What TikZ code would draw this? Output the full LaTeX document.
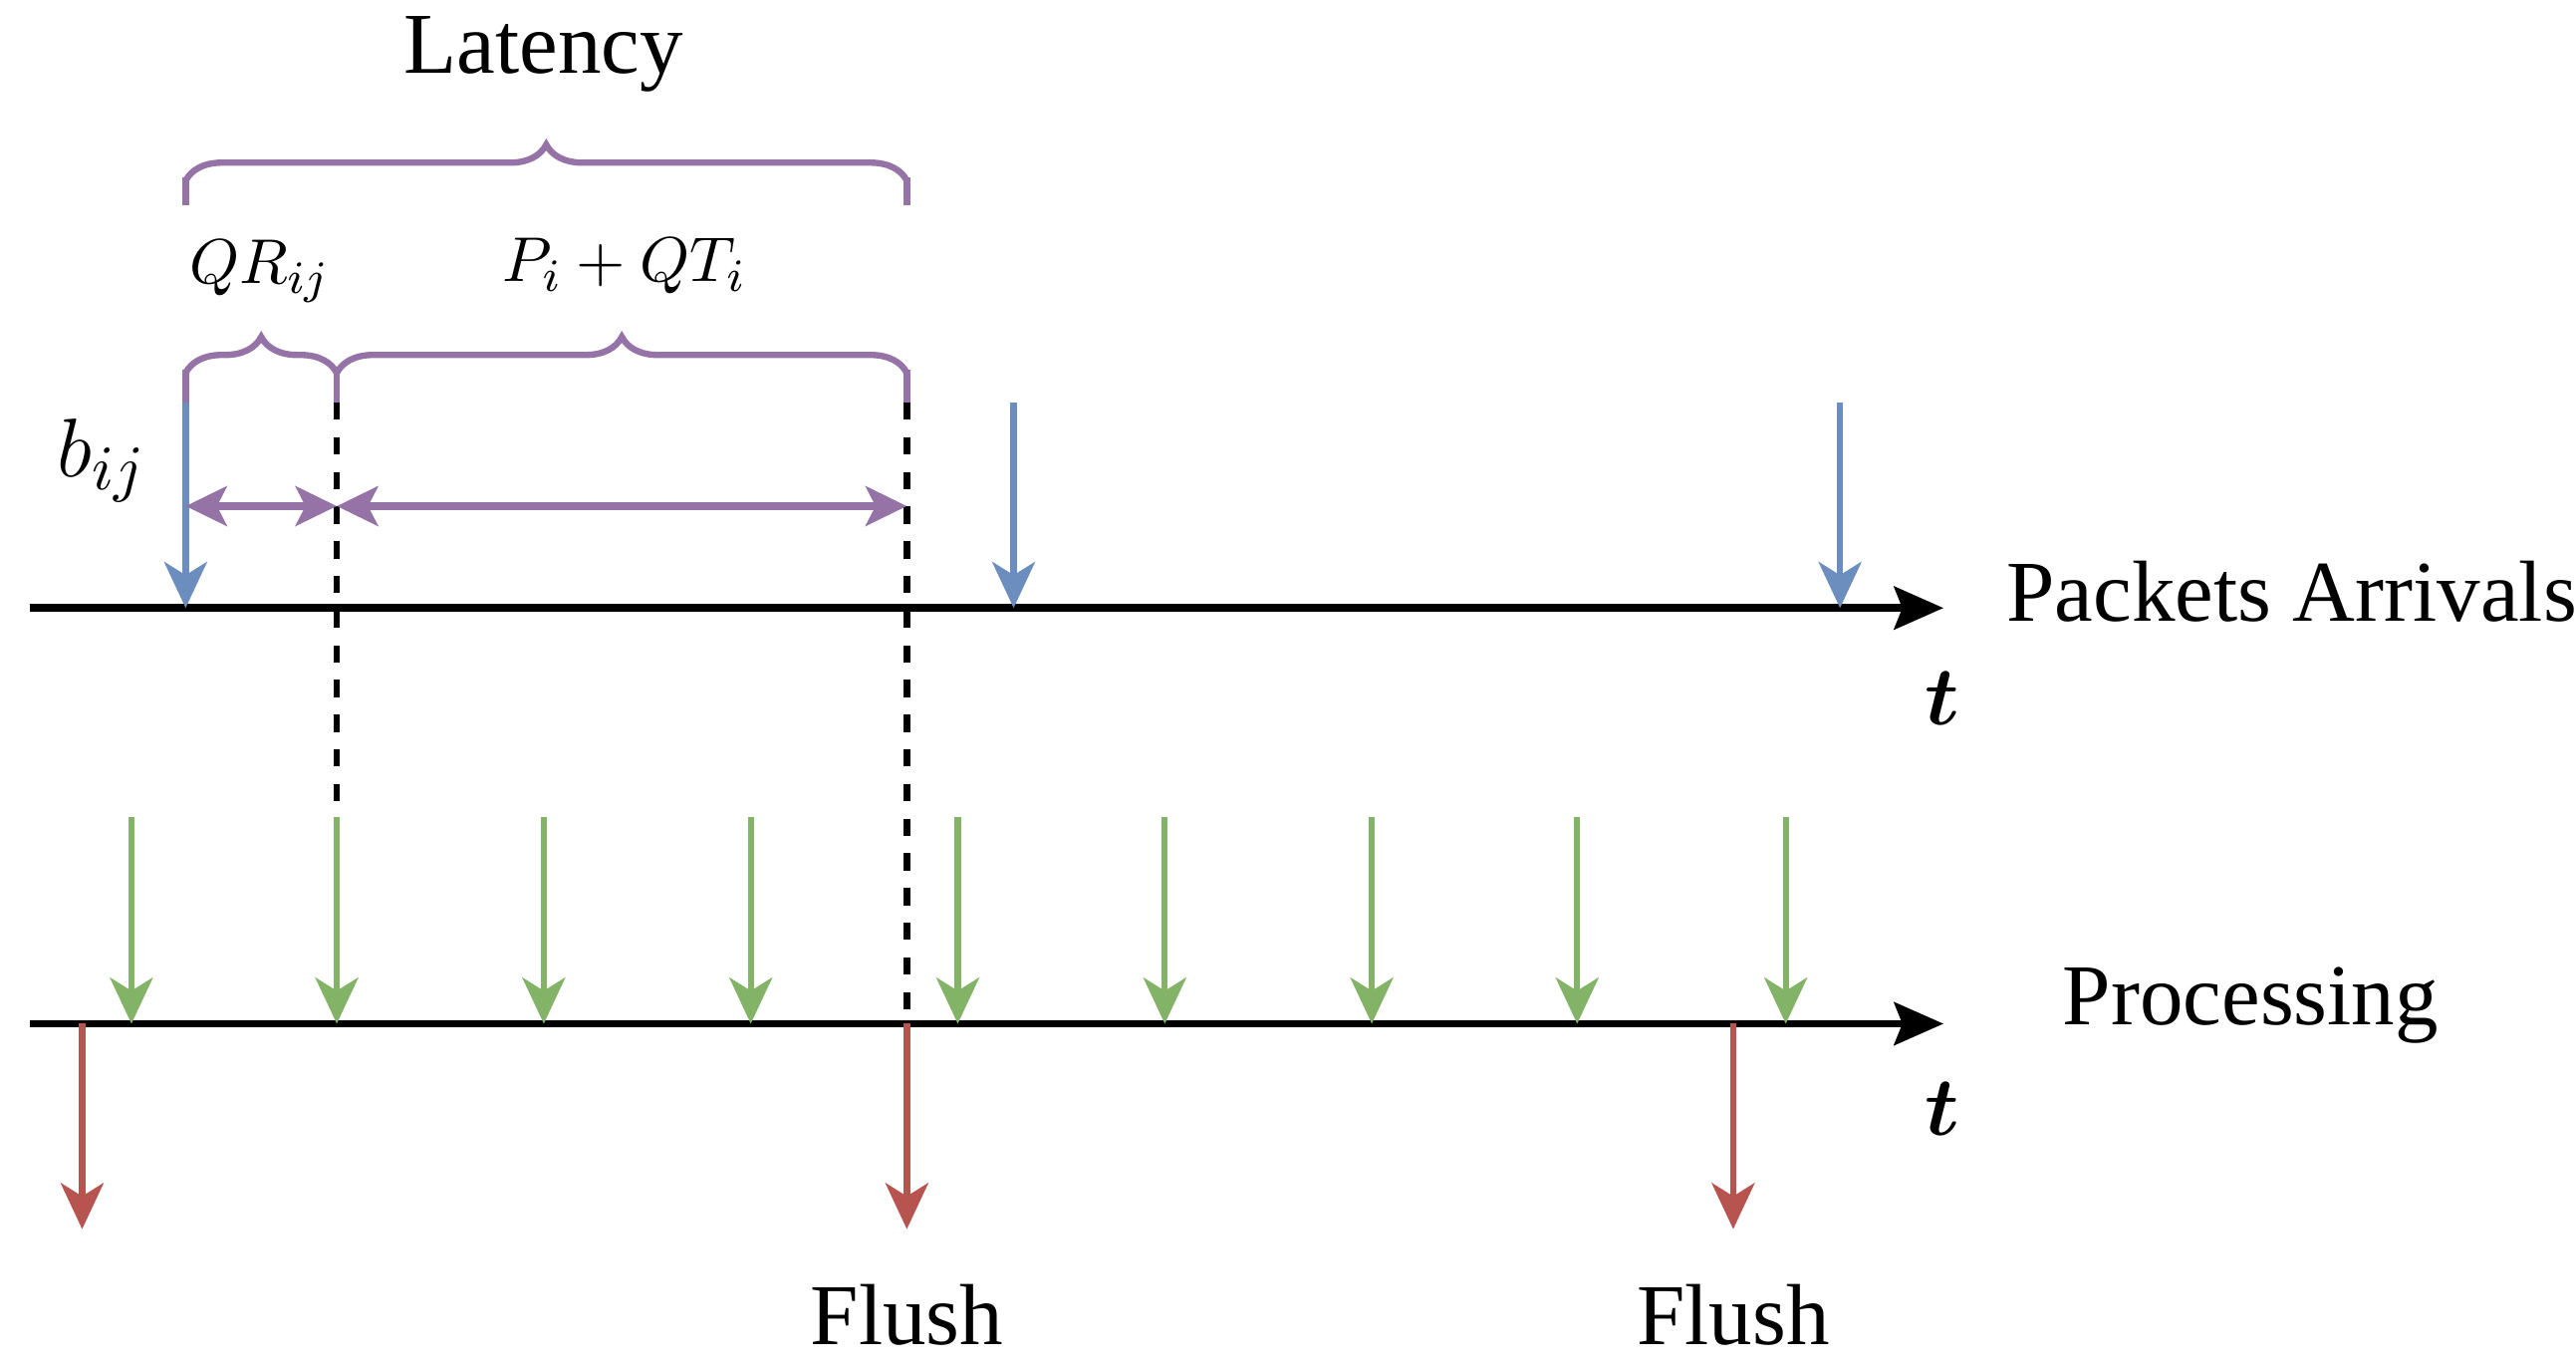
\documentclass[tikz,border=0pt]{standalone}
\usepackage{fontspec}
\setmainfont{Liberation Serif}
\usepackage{amsmath}
\usetikzlibrary{arrows.meta,decorations.pathreplacing}
\definecolor{pblue}{HTML}{6C8EBF}
\definecolor{pgreen}{HTML}{82B366}
\definecolor{pred}{HTML}{B85450}
\definecolor{ppurple}{HTML}{9673A6}
\begin{document}
\begin{tikzpicture}[x=0.01cm,y=-0.01cm,
  tip/.style={-{Stealth[length=0.28cm,width=0.26cm,inset=0.08cm]}},
  axis/.style={line width=1.3pt,-{Stealth[length=0.3cm,width=0.26cm,inset=0.05cm]}},
  tick/.style={tip,line width=1.1pt},
  lbl/.style={font=\fontsize{15}{18}\selectfont},
  brc/.style={ppurple,line width=1.1pt,decorate,decoration={brace,amplitude=0.22cm}},
  leg/.style={ppurple,line width=1.1pt}]
\useasboundingbox (0,0) rectangle (1568,833);
% axes
\coordinate (a0) at (18,370); \coordinate (a1) at (1183,370);
\coordinate (b0) at (18,623); \coordinate (b1) at (1183,623);
\draw[axis] (a0) -- (a1);
\draw[axis] (b0) -- (b1);
\node[lbl] (pa) at (1395,360) {Packets Arrivals};
\node[lbl] (pr) at (1370,612) {Processing};
\node[lbl] (t1) at (1182,425) {$\boldsymbol{t}$};
\node[lbl] (t2) at (1182,675) {$\boldsymbol{t}$};
% dashed
\draw[dashed,line width=1.1pt] (205,245) -- (205,497);
\draw[dashed,line width=1.1pt] (552,245) -- (552,623);
% blue arrivals
\foreach \x in {113,617,1120} \draw[tick,pblue] (\x,245) -- (\x,370);
% green processing
\foreach \x in {80,205,331,457,583,709,835,960,1087} \draw[tick,pgreen] (\x,497) -- (\x,623);
% red flush
\foreach \x in {50,552,1055} \draw[tick,pred] (\x,623) -- (\x,748);
\node[lbl] (f1) at (552,800) {Flush};
\node[lbl] (f2) at (1055,800) {Flush};
% purple spans
\draw[ppurple,line width=1.4pt,{Stealth[length=0.25cm,width=0.24cm,inset=0.06cm]}-{Stealth[length=0.25cm,width=0.24cm,inset=0.06cm]}] (113,308) -- (205,308);
\draw[ppurple,line width=1.4pt,{Stealth[length=0.25cm,width=0.24cm,inset=0.06cm]}-{Stealth[length=0.25cm,width=0.24cm,inset=0.06cm]}] (205,308) -- (552,308);
\node[lbl] (b) at (62,280) {$b_{ij}$};
% braces
\draw[leg] (113,245) -- (113,225); \draw[leg] (205,245) -- (205,225); \draw[leg] (552,245) -- (552,225);
\draw[brc] (113,227) -- (205,227);
\draw[brc] (205,227) -- (552,227);
\node[font=\fontsize{11}{13}\selectfont] (qr) at (158,165) {$QR_{ij}$};
\node[font=\fontsize{11}{13}\selectfont] (pq) at (380,162) {$P_i+QT_i$};
\draw[leg] (113,125) -- (113,108); \draw[leg] (552,125) -- (552,108);
\draw[brc] (113,110) -- (552,110);
\node[lbl] (lat) at (331,33) {Latency};
\end{tikzpicture}
\end{document}
